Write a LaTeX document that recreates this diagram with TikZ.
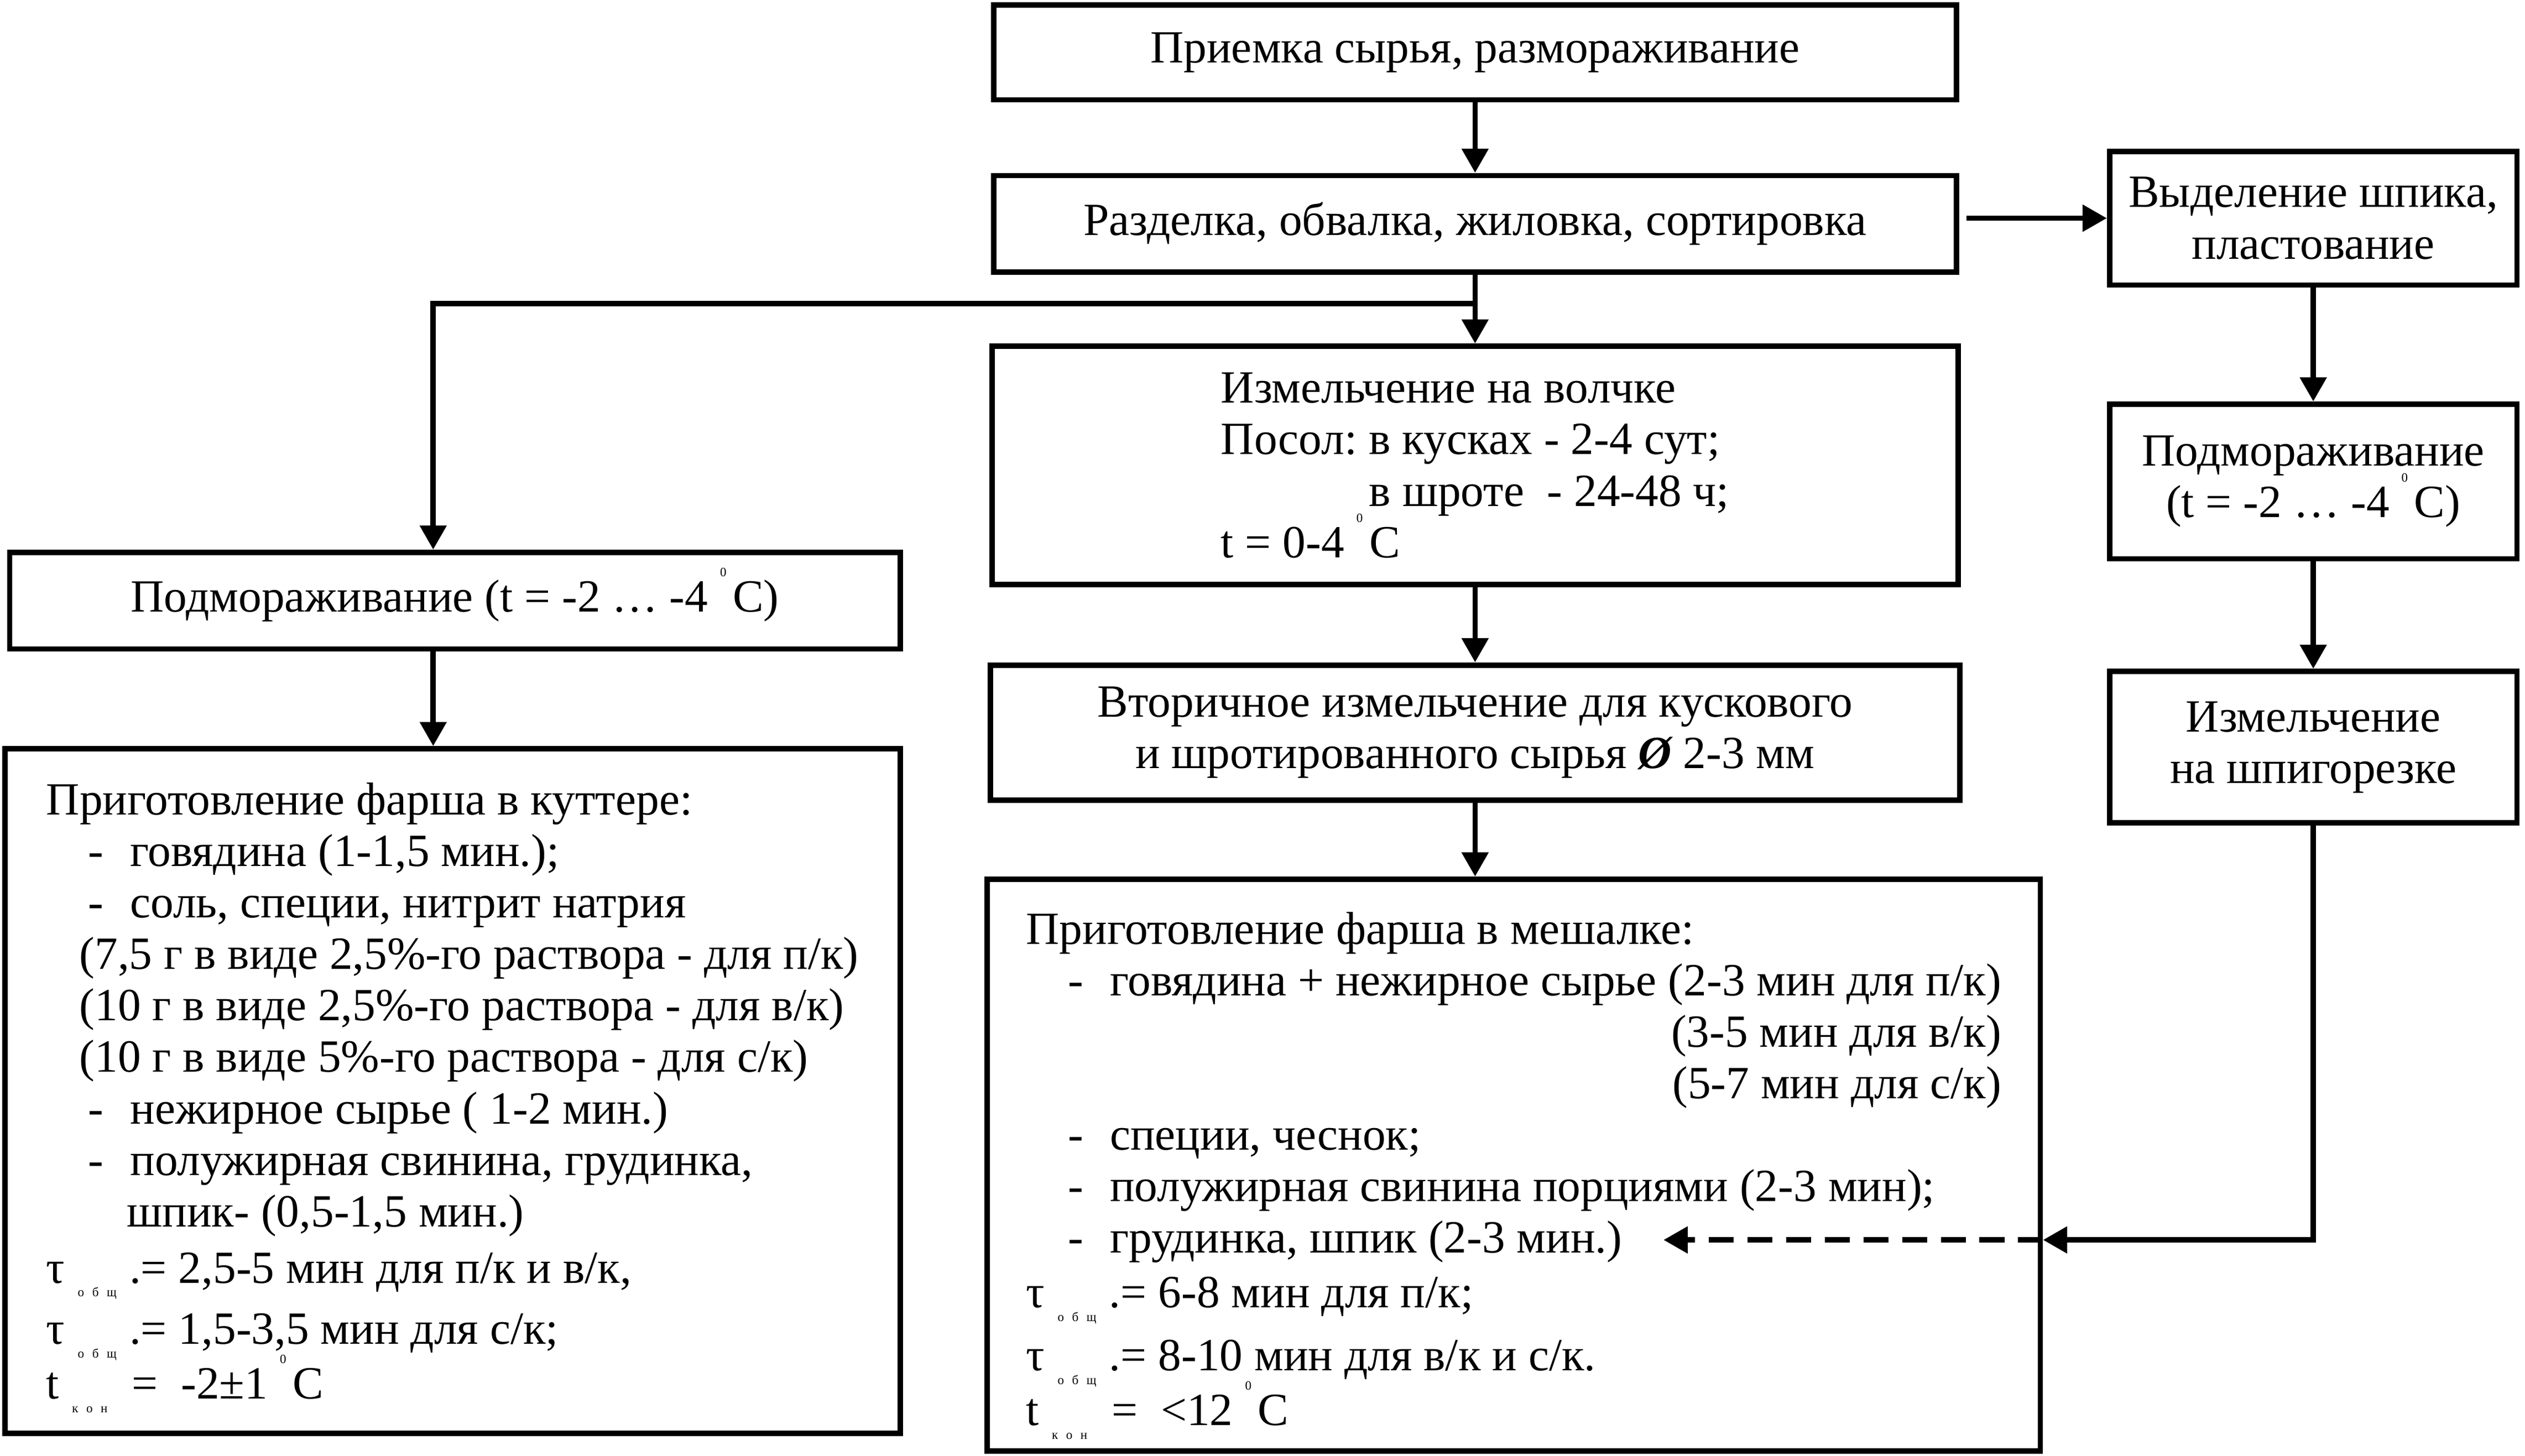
\documentclass[tikz,border=0pt]{standalone}
\usepackage{fontspec}
\setmainfont{Liberation Serif}
\usetikzlibrary{arrows.meta, positioning}
\tikzset{>={Triangle[length = 3mm, width = 3.2mm]}}
\tikzstyle{stage} = [rectangle, draw = black, line width = 1.9pt, inner sep = 0pt, align = center]
\tikzstyle{listing} = [stage, align = left]
\tikzstyle{flow} = [->, line width = 1.9pt]
\newcommand{\degC}{\hspace{0.15cm}\smash{\raisebox{0.44cm}{\fontsize{4.5}{5}\selectfont 0}}\hspace{0.08cm}C}
\newcommand{\lowsub}[1]{\hspace{0.16cm}\smash{\raisebox{-0.17cm}{\fontsize{4.5}{5}\selectfont #1}}\hspace{0.16cm}}
\newcommand{\dashitem}{\hspace*{0.52cm}-\hspace*{0.33cm}}

\begin{document}
\begin{tikzpicture}[node distance = 2.13cm, font = \fontsize{16.3}{18.2}\selectfont\frenchspacing]
    \useasboundingbox (0,0) rectangle (31.36,-18.077);
    % middle column
    \node (receiving) [stage, minimum width = 11.96cm, minimum height = 1.18cm] at (18.32,-0.65) {Приемка сырья, размораживание};
    \node (cutting) [stage, below of = receiving, minimum width = 11.96cm, minimum height = 1.20cm] {Разделка, обвалка, жиловка, сортировка};
    \node (mincing) [listing, below of = cutting, node distance = 3.0cm, minimum width = 12.0cm, minimum height = 2.96cm] {Измельчение на волчке\\
        Посол: в кусках - 2-4 сут;\\
        \hspace*{1.84cm}в шроте\ \ - 24-48 ч;\\
        t = 0-4\degC};
    \node (secondMince) [stage, below of = mincing, node distance = 3.32cm, minimum width = 12.04cm, minimum height = 1.68cm] {Вторичное измельчение для кускового\\
        и шротированного сырья {\bfseries\itshape Ø} 2-3 мм};
    \node (mixer) [listing, minimum width = 13.08cm, minimum height = 7.10cm] at (18.80,-14.47) {\rule{0pt}{0.49cm}Приготовление фарша в мешалке:\\
        \dashitem говядина + нежирное сырье (2-3 мин для п/к)\\
        \hfill(3-5 мин для в/к)\\
        \hfill(5-7 мин для с/к)\\
        \dashitem специи, чеснок;\\
        \dashitem полужирная свинина порциями (2-3 мин);\\
        \dashitem грудинка, шпик (2-3 мин.)\\[0.04cm]
        τ\lowsub{о\hspace{0.1cm}б\hspace{0.1cm}щ}.= 6-8 мин для п/к;\\[0.14cm]
        τ\lowsub{о\hspace{0.1cm}б\hspace{0.1cm}щ}.= 8-10 мин для в/к и с/к.\\[0.04cm]
        t\lowsub{к\hspace{0.1cm}о\hspace{0.1cm}н} =\ \ <12\degC};
    % left column
    \node (freezeLeft) [stage, minimum width = 11.06cm, minimum height = 1.20cm] at (5.65,-7.46) {Подмораживание (t = -2 … -4\degC)};
    \node (cutter) [listing, minimum width = 11.12cm, minimum height = 8.50cm] at (5.62,-13.55) {Приготовление фарша в куттере:\\
        \dashitem говядина (1-1,5 мин.);\\
        \dashitem соль, специи, нитрит натрия\\
        \hspace*{0.41cm}(7,5 г в виде 2,5\%-го раствора - для п/к)\\
        \hspace*{0.41cm}(10 г в виде 2,5\%-го раствора - для в/к)\\
        \hspace*{0.41cm}(10 г в виде 5\%-го раствора - для с/к)\\
        \dashitem нежирное сырье ( 1-2 мин.)\\
        \dashitem полужирная свинина, грудинка,\\
        \hspace*{1.0cm}шпик- (0,5-1,5 мин.)\\[0.06cm]
        τ\lowsub{о\hspace{0.1cm}б\hspace{0.1cm}щ}.= 2,5-5 мин для п/к и в/к,\\[0.12cm]
        τ\lowsub{о\hspace{0.1cm}б\hspace{0.1cm}щ}.= 1,5-3,5 мин для с/к;\\[0.04cm]
        t\lowsub{к\hspace{0.1cm}о\hspace{0.1cm}н} =\ \ -2±1\degC};
    % right column
    \node (fatSep) [stage, minimum width = 5.06cm, minimum height = 1.66cm] at (28.73,-2.71) {Выделение шпика,\\пластование};
    \node (freezeRight) [stage, below of = fatSep, node distance = 3.27cm, minimum width = 5.06cm, minimum height = 1.92cm] {Подмораживание\\(t = -2 … -4\degC)};
    \node (spekCut) [stage, below of = freezeRight, node distance = 3.30cm, minimum width = 5.06cm, minimum height = 1.88cm] {Измельчение\\на шпигорезке};
    \coordinate (fork) at (18.32,-3.77);
    \coordinate (spikEnd) at (20.66,-15.40);
    \draw [flow] (receiving) -- (cutting);
    \draw [flow, shorten < = 0.09cm] (cutting.east |- fatSep.west) -- (fatSep.west);
    \draw [flow] (cutting.south) -- (cutting.south |- mincing.north);
    \draw [flow] (fork) -| ([xshift = -0.27cm]freezeLeft.north);
    \draw [flow] ([xshift = -0.27cm]freezeLeft.south) -- ([xshift = -0.27cm]freezeLeft.south |- cutter.north);
    \draw [flow] (mincing) -- (secondMince);
    \draw [flow] (secondMince.south) -- (secondMince.south |- mixer.north);
    \draw [flow] (fatSep) -- (freezeRight);
    \draw [flow] (freezeRight) -- (spekCut);
    \draw [flow] (spekCut.south) |- ([yshift = -0.93cm]mixer.east);
    \draw [flow, dash pattern = on 0.31cm off 0.17cm] ([yshift = -0.93cm]mixer.east) -- (spikEnd);
\end{tikzpicture}
\end{document}
